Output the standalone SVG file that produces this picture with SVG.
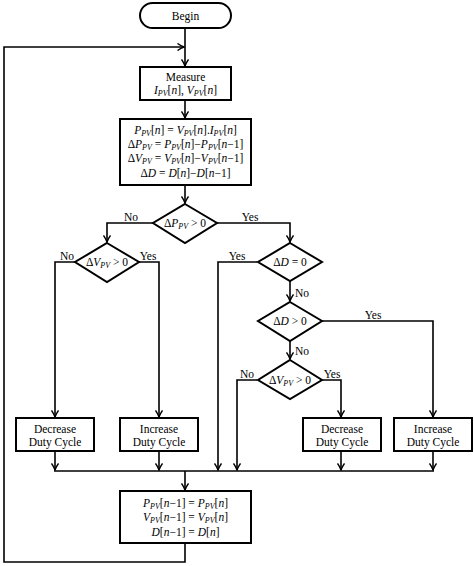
<svg xmlns="http://www.w3.org/2000/svg" width="474" height="566" viewBox="0 0 474 566">
<style>
text{font-family:"Liberation Serif","DejaVu Serif",serif;font-size:11.5px;fill:#000}
.c{text-anchor:middle}
.i{font-style:italic}
.s{font-style:italic;font-size:8px}
.box{fill:#fff;stroke:#000;stroke-width:2}
.ln{fill:none;stroke:#000;stroke-width:1.6}
</style>
<defs>
<marker id="ar" markerUnits="userSpaceOnUse" viewBox="0 0 8 8" refX="7" refY="4" markerWidth="8" markerHeight="8" orient="auto">
<path d="M0.5,0.5 Q4,3 7,4 Q4,5 0.5,7.5" fill="none" stroke="#000" stroke-width="1.4"/>
</marker>
</defs>
<rect width="474" height="566" fill="#fff"/>
<g id="connectors">
<path class="ln" d="M185,28 V66" marker-end="url(#ar)"/>
<path class="ln" d="M185,543 V562 H4 V47 H184" marker-end="url(#ar)"/>
<path class="ln" d="M185,100 V118" marker-end="url(#ar)"/>
<path class="ln" d="M185,185 V203" marker-end="url(#ar)"/>
<path class="ln" d="M153,223 H107 V242" marker-end="url(#ar)"/>
<path class="ln" d="M217,223 H290 V242" marker-end="url(#ar)"/>
<path class="ln" d="M75,262 H55 V417" marker-end="url(#ar)"/>
<path class="ln" d="M139,262 H159 V417" marker-end="url(#ar)"/>
<path class="ln" d="M257,262 H218 V470" marker-end="url(#ar)"/>
<path class="ln" d="M290,281 V301" marker-end="url(#ar)"/>
<path class="ln" d="M322,321 H433 V417" marker-end="url(#ar)"/>
<path class="ln" d="M290,341 V359" marker-end="url(#ar)"/>
<path class="ln" d="M257,380 H237 V470" marker-end="url(#ar)"/>
<path class="ln" d="M322,380 H341 V417" marker-end="url(#ar)"/>
<path class="ln" d="M55,451 V470" marker-end="url(#ar)"/>
<path class="ln" d="M159,451 V470" marker-end="url(#ar)"/>
<path class="ln" d="M341,451 V470" marker-end="url(#ar)"/>
<path class="ln" d="M433,451 V470" marker-end="url(#ar)"/>
<path class="ln" d="M54,471 H434"/>
<path class="ln" d="M185,471 V490" marker-end="url(#ar)"/>
</g>
<g id="labels">
<text class="c" x="131" y="221">No</text>
<text class="c" x="250" y="221">Yes</text>
<text class="c" x="67" y="260">No</text>
<text class="c" x="148" y="260">Yes</text>
<text class="c" x="237" y="260">Yes</text>
<text x="295" y="297">No</text>
<text class="c" x="373" y="319">Yes</text>
<text x="295" y="355">No</text>
<text class="c" x="247" y="378">No</text>
<text class="c" x="332" y="378">Yes</text>
</g>
<g id="begin">
<rect class="box" x="140" y="3" width="91" height="25" rx="12.5"/>
<text class="c" x="185.5" y="19.5">Begin</text>
</g>
<g id="measure">
<rect class="box" x="140" y="67" width="91" height="33"/>
<text class="c" x="185.5" y="81">Measure</text>
<text class="c" x="185.5" y="94"><tspan class="i">I</tspan><tspan class="s" dy="2">PV</tspan><tspan dy="-2">[</tspan><tspan class="i">n</tspan>], <tspan class="i">V</tspan><tspan class="s" dy="2">PV</tspan><tspan dy="-2">[</tspan><tspan class="i">n</tspan>]</text>
</g>
<g id="compute">
<rect class="box" x="120" y="119" width="131" height="66"/>
<text class="c" x="185.5" y="134"><tspan class="i">P</tspan><tspan class="s" dy="2">PV</tspan><tspan dy="-2">[</tspan><tspan class="i">n</tspan>] = <tspan class="i">V</tspan><tspan class="s" dy="2">PV</tspan><tspan dy="-2">[</tspan><tspan class="i">n</tspan>].<tspan class="i">I</tspan><tspan class="s" dy="2">PV</tspan><tspan dy="-2">[</tspan><tspan class="i">n</tspan>]</text>
<text class="c" x="185.5" y="148">Δ<tspan class="i">P</tspan><tspan class="s" dy="2">PV</tspan><tspan dy="-2"> = </tspan><tspan class="i">P</tspan><tspan class="s" dy="2">PV</tspan><tspan dy="-2">[</tspan><tspan class="i">n</tspan>]−<tspan class="i">P</tspan><tspan class="s" dy="2">PV</tspan><tspan dy="-2">[</tspan><tspan class="i">n</tspan>−1]</text>
<text class="c" x="185.5" y="162">Δ<tspan class="i">V</tspan><tspan class="s" dy="2">PV</tspan><tspan dy="-2"> = </tspan><tspan class="i">V</tspan><tspan class="s" dy="2">PV</tspan><tspan dy="-2">[</tspan><tspan class="i">n</tspan>]−<tspan class="i">V</tspan><tspan class="s" dy="2">PV</tspan><tspan dy="-2">[</tspan><tspan class="i">n</tspan>−1]</text>
<text class="c" x="185.5" y="177">Δ<tspan class="i">D</tspan> = <tspan class="i">D</tspan>[<tspan class="i">n</tspan>]−<tspan class="i">D</tspan>[<tspan class="i">n</tspan>−1]</text>
</g>
<g id="dP">
<polygon class="box" points="185,204 217,223 185,243 153,223"/>
<text class="c" x="185" y="227">Δ<tspan class="i">P</tspan><tspan class="s" dy="2">PV</tspan><tspan dy="-2"> &gt; 0</tspan></text>
</g>
<g id="dV1">
<polygon class="box" points="107,243 139,262 107,282 75,262"/>
<text class="c" x="107" y="266">Δ<tspan class="i">V</tspan><tspan class="s" dy="2">PV</tspan><tspan dy="-2"> &gt; 0</tspan></text>
</g>
<g id="dD0">
<polygon class="box" points="290,243 322,262 290,281 258,262"/>
<text class="c" x="290" y="266">Δ<tspan class="i">D</tspan> = 0</text>
</g>
<g id="dDpos">
<polygon class="box" points="290,302 322,321 290,341 258,321"/>
<text class="c" x="290" y="325">Δ<tspan class="i">D</tspan> &gt; 0</text>
</g>
<g id="dV2">
<polygon class="box" points="290,360 322,380 290,399 258,380"/>
<text class="c" x="290" y="384">Δ<tspan class="i">V</tspan><tspan class="s" dy="2">PV</tspan><tspan dy="-2"> &gt; 0</tspan></text>
</g>
<g id="dec1">
<rect class="box" x="16" y="418" width="78" height="33"/>
<text class="c" x="55" y="433">Decrease</text>
<text class="c" x="55" y="446">Duty Cycle</text>
</g>
<g id="inc1">
<rect class="box" x="120" y="418" width="78" height="33"/>
<text class="c" x="159" y="433">Increase</text>
<text class="c" x="159" y="446">Duty Cycle</text>
</g>
<g id="dec2">
<rect class="box" x="303" y="418" width="78" height="33"/>
<text class="c" x="342" y="433">Decrease</text>
<text class="c" x="342" y="446">Duty Cycle</text>
</g>
<g id="inc2">
<rect class="box" x="394" y="418" width="78" height="33"/>
<text class="c" x="433" y="433">Increase</text>
<text class="c" x="433" y="446">Duty Cycle</text>
</g>
<g id="update">
<rect class="box" x="120" y="491" width="131" height="52"/>
<text class="c" x="185.5" y="507"><tspan class="i">P</tspan><tspan class="s" dy="2">PV</tspan><tspan dy="-2">[</tspan><tspan class="i">n</tspan>−1] = <tspan class="i">P</tspan><tspan class="s" dy="2">PV</tspan><tspan dy="-2">[</tspan><tspan class="i">n</tspan>]</text>
<text class="c" x="185.5" y="521"><tspan class="i">V</tspan><tspan class="s" dy="2">PV</tspan><tspan dy="-2">[</tspan><tspan class="i">n</tspan>−1] = <tspan class="i">V</tspan><tspan class="s" dy="2">PV</tspan><tspan dy="-2">[</tspan><tspan class="i">n</tspan>]</text>
<text class="c" x="185.5" y="536"><tspan class="i">D</tspan>[<tspan class="i">n</tspan>−1] = <tspan class="i">D</tspan>[<tspan class="i">n</tspan>]</text>
</g>
</svg>
